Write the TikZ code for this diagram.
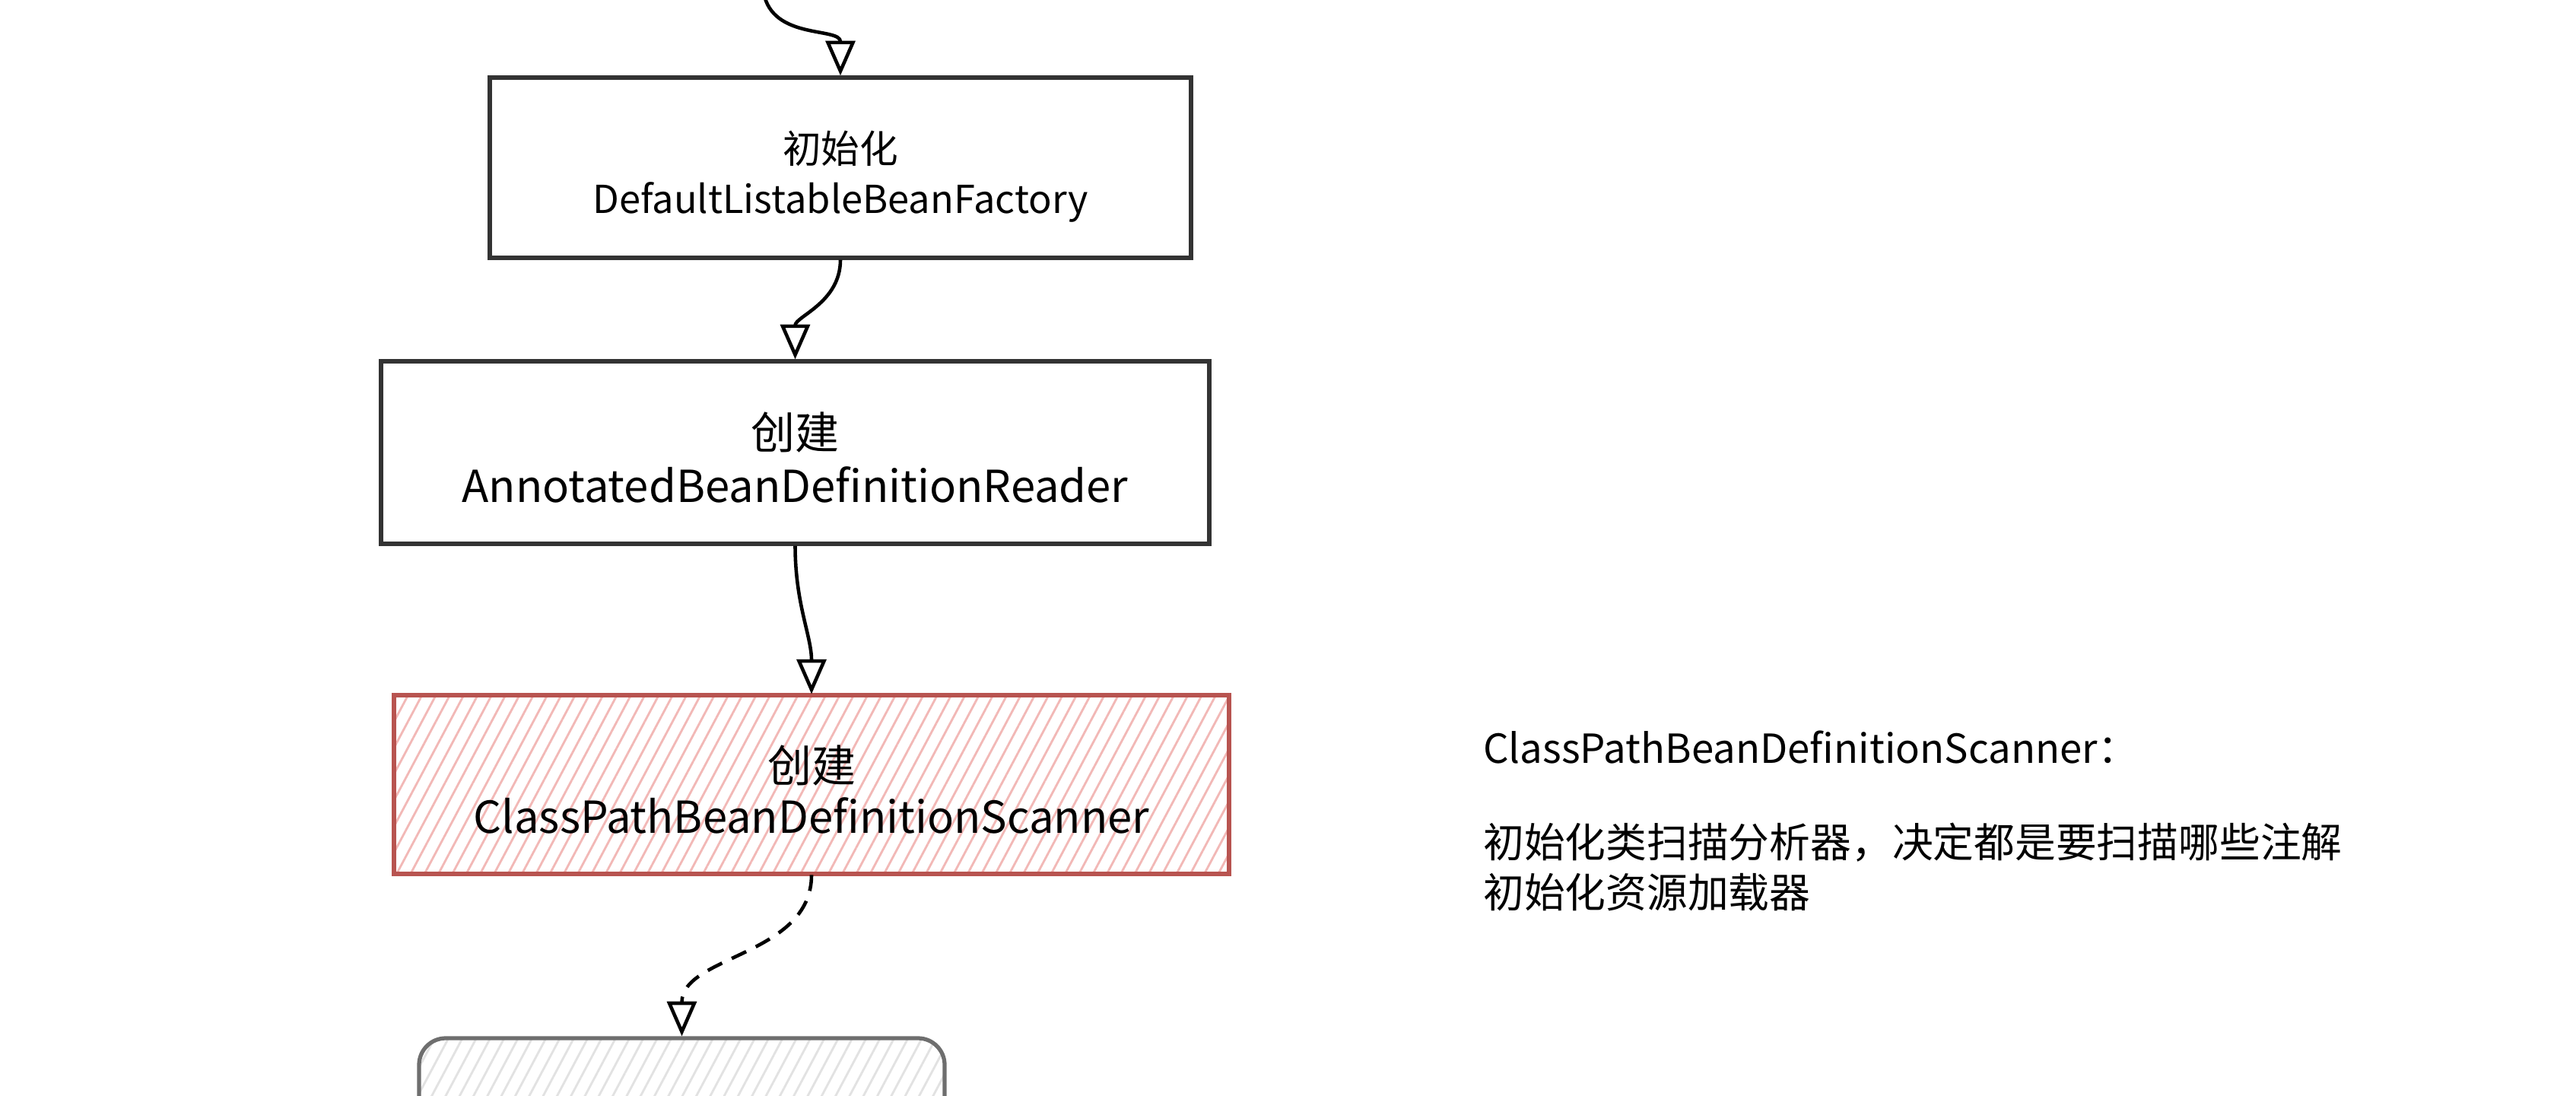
\documentclass[tikz,border=0pt]{standalone}
\usepackage{fontspec}
\setmainfont{Noto Sans CJK SC}
\usetikzlibrary{arrows.meta,patterns.meta}

\definecolor{inkgrey}{HTML}{333333}
\definecolor{scanred}{HTML}{B85450}
\definecolor{scanpink}{HTML}{F2B8B6}
\definecolor{nextgrey}{HTML}{6E6E6E}
\definecolor{nexthatch}{HTML}{E2E2E2}

\begin{document}
\begin{tikzpicture}[->,>={Triangle[open,length=13pt,width=11pt]},line width=1.3pt,
                    flow box/.style={rectangle,draw=inkgrey,line width=1.5pt,align=center,inner sep=0pt},
                    scan box/.style={flow box,draw=scanred,
                      pattern={Lines[angle=62,distance=4.6pt,line width=0.8pt]},pattern color=scanpink},
                    next box/.style={flow box,draw=nextgrey,rounded corners=0.35cm,
                      pattern={Lines[angle=62,distance=4.6pt,line width=0.8pt]},pattern color=nexthatch},
                    note text/.style={anchor=west,inner sep=0pt,font=\fontsize{15.3}{18}\selectfont}]

  \clip (0,0) rectangle (33.87,-14.41);
  \fill[white] (0,0) rectangle (33.87,-14.41);

  % flow boxes
  \coordinate (0) at (10.04,0.1);
  \node[flow box,minimum width=9.22cm,minimum height=2.37cm,font=\fontsize{14.4}{19}\selectfont]
    (1) at (11.05,-2.205) {\rule{0pt}{0.66cm}初始化\\DefaultListableBeanFactory};
  \node[flow box,minimum width=10.89cm,minimum height=2.40cm,font=\fontsize{16.5}{20}\selectfont]
    (2) at (10.455,-5.95) {\rule{0pt}{0.62cm}创建\\AnnotatedBeanDefinitionReader};
  \node[scan box,minimum width=10.98cm,minimum height=2.35cm,font=\fontsize{16.5}{19}\selectfont]
    (3) at (10.67,-10.315) {\rule{0pt}{0.62cm}创建\\ClassPathBeanDefinitionScanner};
  \node[next box,minimum width=6.91cm,minimum height=3cm] (4) at (8.965,-15.15) {};

  % note on the right
  \node[note text,font=\fontsize{15}{18}\selectfont] (n0) at (19.48,-9.83) {ClassPathBeanDefinitionScanner：};
  \node[note text] (n1) at (19.48,-11.08) {初始化类扫描分析器，决定都是要扫描哪些注解};
  \node[note text] (n2) at (19.48,-11.73) {初始化资源加载器};

  \path
    (0) edge[out=-80,in=90,looseness=1.1] (1.north)
    (1) edge[out=-90,in=90] (2.north)
    (2) edge[out=-90,in=90] (3.north)
    (3) edge[out=-90,in=90,dashed,dash pattern=on 6pt off 4pt] (4.north);
\end{tikzpicture}
\end{document}
